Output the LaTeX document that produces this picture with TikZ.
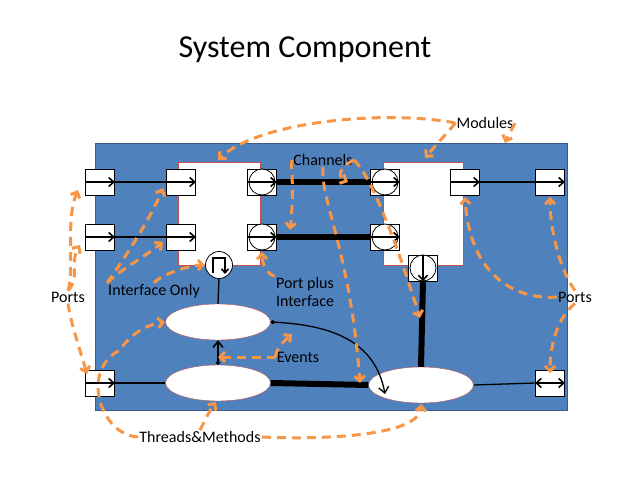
\documentclass[tikz,border=0pt]{standalone}
\usepackage{fontspec}
\setmainfont{Carlito}
\usetikzlibrary{arrows.meta,shapes.geometric}
\definecolor{bluebg}{HTML}{4F81BD}
\definecolor{blueedge}{HTML}{385D8A}
\definecolor{org}{HTML}{F79646}
\definecolor{redge}{HTML}{C0504D}
\begin{document}
\begin{tikzpicture}[x=1pt,y=-1pt,
  port/.style={draw,fill=white,line width=0.8pt,minimum width=29pt,minimum height=26pt,inner sep=0pt},
  cport/.style={port,minimum width=29pt,minimum height=26pt},
  ell/.style={ellipse,draw=redge,fill=white,minimum width=105pt,minimum height=36pt,inner sep=0pt},
  mod/.style={draw=redge,fill=white,line width=0.8pt},
  thin/.style={line width=1.3pt},
  thick/.style={line width=6pt},
  od/.style={draw=org,line width=3pt,dash pattern=on 9pt off 6pt,-{Straight Barb[length=5pt,width=10pt]}},
  lbl/.style={font=\fontsize{16}{18}\selectfont,text=black,inner sep=1pt},
  ar/.style={-{Straight Barb[length=5pt,width=9pt]},line width=1.6pt}]
\useasboundingbox (0,0) rectangle (638,479);
\node[font=\fontsize{32}{36}\selectfont] (title) at (305,50) {System Component};
\node[draw=blueedge,fill=bluebg,line width=0.8pt,minimum width=472pt,minimum height=267pt,inner sep=0pt] (bg) at (331,276.5) {};
\node[mod,minimum width=82pt,minimum height=103pt,inner sep=0pt] (m1) at (219,213.5) {};
\node[mod,minimum width=80pt,minimum height=103pt,inner sep=0pt] (m2) at (423,213.5) {};
% ports
\node[port] (p1) at (100,182) {};
\node[port] (p2) at (100,237) {};
\node[port] (i1) at (181,182) {};
\node[port] (i2) at (181,237) {};
\node[cport] (c1) at (262,182) {};
\node[cport] (c2) at (262,237) {};
\node[cport] (d1) at (385,182) {};
\node[cport] (d2) at (385,237) {};
\node[port] (r1) at (465,182) {};
\node[port] (o1) at (550,182) {};
\node[cport] (mp) at (423,268) {};
\node[port] (bl) at (100,383) {};
\node[port] (br) at (550,383) {};
\foreach \n in {c1,c2,d1,d2}{\draw[fill=white,line width=0.8pt] (\n) circle (13pt);}
\draw[fill=white,line width=0.8pt] (mp) circle (13pt);
\node[circle,draw,fill=white,line width=0.8pt,minimum size=27pt,inner sep=0pt] (ip) at (219,265) {};
% ellipses
\node[ell] (e1) at (218,322) {};
\node[ell] (e2) at (218,383) {};
\node[ell] (e3) at (421,385) {};
% connectors
\draw[thin] (p1.west) -- (i1.west); \draw[ar] (p1.west) -- (p1.east);
\draw[thin] (p2.west) -- (i2.west); \draw[ar] (p2.west) -- (p2.east);
\draw[ar] (i1.west) -- (i1.east); \draw[ar] (i2.west) -- (i2.east);
\draw[thick] (c1.east) -- (d1.west); \draw[thick] (c2.east) -- (d2.west);
\foreach \n in {c1,c2,d1,d2}{\draw[ar] (\n.west) -- (\n.east);}
\draw[thin] (r1.east) -- (o1.west);
\draw[ar] (r1.west) -- (r1.east); \draw[ar] (o1.west) -- (o1.east);
\draw[ar] (mp.north) -- (mp.south);
\draw[thick] (mp.south) -- (e3.north);
\draw[thin] (ip.south) -- (e1.north);
\draw[line width=2.4pt] (213,273) -- (213,258) -- (225,258);
\draw[-{Straight Barb[length=4pt,width=7pt]},line width=1.6pt] (225,257) -- (225,274);
\draw[thin] (bl.east) -- (e2.west);
\draw[ar] (bl.west) -- (bl.east);
\draw[thick] (e2.east) -- (e3.west);
\draw[thin] (e3.east) -- (br.west);
\draw[{Straight Barb[length=5pt,width=9pt]}-{Straight Barb[length=5pt,width=9pt]},line width=1.6pt] (br.west) -- (br.east);
\draw[ar,{Circle[length=4pt]}-{Straight Barb[length=6pt,width=10pt]}] (e2.north) -- (e1.south);
\draw[ar,line width=1.3pt,{Circle[length=4pt]}-{Straight Barb[length=6pt,width=10pt]}] (e1.east) .. controls (330,325) and (375,340) .. ([shift={(-36pt,-9pt)}]e3.center);
% labels
\node[lbl] (mods) at (485,123) {Modules};
\node[lbl] (chan) at (323,160) {Channels};
\node[lbl] (portsl) at (68,297) {Ports};
\node[lbl] (intonly) at (154,291) {Interface Only};
\node[lbl,align=center] (ppi) at (305,292) {Port plus\\Interface};
\node[lbl] (events) at (298,357) {Events};
\node[lbl] (thr) at (200,437) {Threads\&Methods};
\node[lbl] (portsr) at (575,297) {Ports};
% orange dashed
\draw[od] (mods.west) .. controls (390,110) and (260,120) .. (218,160);
\draw[od] (mods.west) .. controls (450,130) and (440,140) .. (425,158);
\draw[od] (mods.east) .. controls (515,125) and (508,135) .. (505,143);
\draw[od] (chan.west) .. controls (290,165) and (295,185) .. (290,230);
\draw[od] (chan.east) .. controls (335,170) and (340,178) .. (348,182);
\draw[od] (chan.east) .. controls (360,165) and (380,190) .. (420,318);
\draw[od] (chan.south) .. controls (320,200) and (350,250) .. (360,383);
\draw[od] (portsl.north) .. controls (75,270) and (65,220) .. (78,190);
\draw[od] (portsl.north) .. controls (80,280) and (70,260) .. (80,245);
\draw[od] (portsl.south) .. controls (70,320) and (80,350) .. (87,374);
\draw[od] (intonly.north west) .. controls (120,265) and (150,220) .. (163,188);
\draw[od] (intonly.north west) .. controls (120,270) and (140,260) .. (163,242);
\draw[od] (intonly.north) .. controls (160,275) and (190,265) .. (205,265);
\draw[od] (ppi.north west) .. controls (268,275) and (262,265) .. (262,252);
\draw[od] (portsr.north) .. controls (560,270) and (550,230) .. (550,197);
\draw[od] (portsr.west) .. controls (520,300) and (470,280) .. (465,197);
\draw[od] (portsr.south) .. controls (555,320) and (550,350) .. (550,373);
\draw[od] (events.west) -- (218,357);
\draw[od] (events.west) .. controls (275,350) and (285,340) .. (292,334);
\draw[od] (thr.north) .. controls (205,420) and (210,410) .. (216,402);
\draw[od] (thr.west) .. controls (100,435) and (80,370) .. (120,350) .. controls (130,335) and (145,325) .. (165,322);
\draw[od] (thr.east) .. controls (330,440) and (420,435) .. (421,404);
\end{tikzpicture}
\end{document}
